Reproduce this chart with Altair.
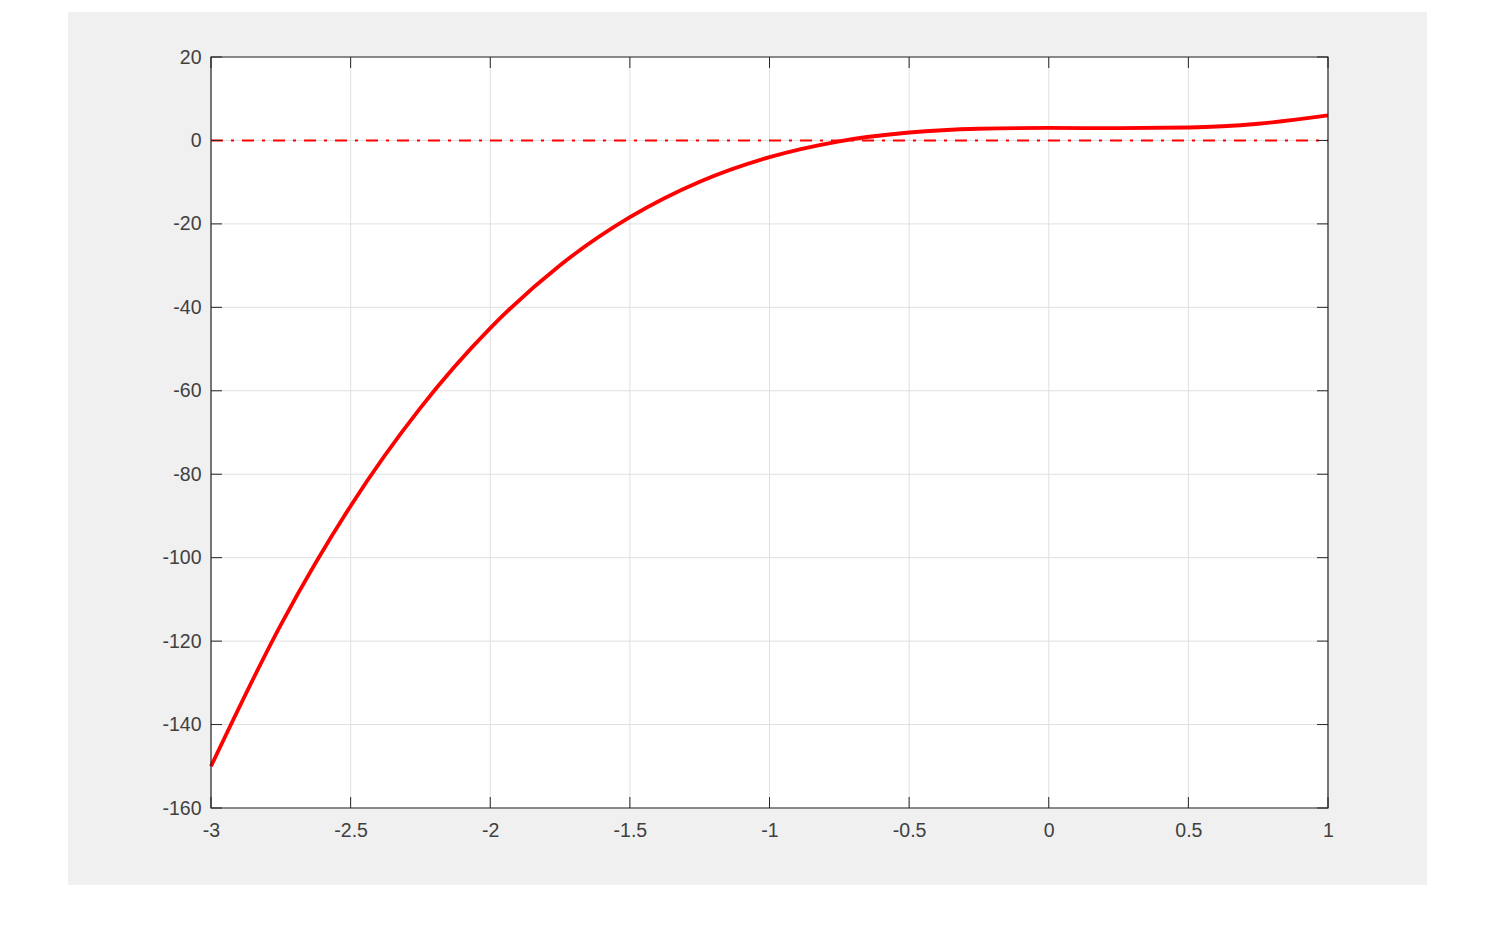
import altair as alt
import pandas as pd

# values
curve_x = [-3.0, -2.75, -2.5, -2.25, -2.0, -1.75, -1.5, -1.25, -1.0, -0.75,
           -0.5, -0.25, 0.0, 0.25, 0.5, 0.75, 1.0]
curve_y = [-150.0, -116.1, -87.6, -64.1, -45.0, -29.9, -18.4, -9.9, -4.0, -0.2,
           1.9, 2.8, 3.0, 2.95, 3.1, 4.0, 6.0]
zero_x = [-3.0, 1.0]
zero_y = [0.0, 0.0]
x_ticks = [-3, -2.5, -2, -1.5, -1, -0.5, 0, 0.5, 1]
y_ticks = [-160, -140, -120, -100, -80, -60, -40, -20, 0, 20]

W, H = 1117, 751
FONT = "Liberation Sans"
AX = "#262626"
LBL = "#404040"

curve = pd.DataFrame({"x": curve_x, "y": curve_y})
zero = pd.DataFrame({"x": zero_x, "y": zero_y})
xt = pd.DataFrame({"x": x_ticks})
yt = pd.DataFrame({"y": y_ticks})
one = alt.Data(values=[{"a": 1}])

xscale = alt.Scale(domain=[-3, 1], nice=False, zero=False)
yscale = alt.Scale(domain=[-160, 20], nice=False, zero=False)

xaxis = alt.Axis(values=x_ticks, labelExpr="'' + datum.value", grid=False, domain=False,
                 ticks=False, labelFont=FONT, labelFontSize=19.5, labelColor=LBL,
                 labelPadding=13, title=None, zindex=2, labelFlush=False)
yaxis = alt.Axis(values=y_ticks, labelExpr="'' + datum.value", grid=False, domain=False,
                 ticks=False, labelFont=FONT, labelFontSize=19.5, labelColor=LBL,
                 labelPadding=10, title=None, zindex=2, labelFlush=False)

bg = alt.Chart(one).mark_rect(color="#f0f0f0").encode(
    x=alt.value(-143), x2=alt.value(1216), y=alt.value(-45), y2=alt.value(828))
plotbg = alt.Chart(one).mark_rect(color="white").encode(
    x=alt.value(0), x2=alt.value(W), y=alt.value(0), y2=alt.value(H))

xgrid = alt.Chart(xt).mark_rule(color="#e0e0e0", strokeWidth=1).encode(
    x=alt.X("x:Q", scale=xscale, axis=xaxis), y=alt.value(0), y2=alt.value(H))
ygrid = alt.Chart(yt).mark_rule(color="#e0e0e0", strokeWidth=1).encode(
    y=alt.Y("y:Q", scale=yscale, axis=yaxis), x=alt.value(0), x2=alt.value(W))

zline = alt.Chart(zero).mark_line(color="#ff0000", strokeWidth=2,
                                  strokeDash=[12, 8, 3, 8]).encode(
    x=alt.X("x:Q", scale=xscale), y=alt.Y("y:Q", scale=yscale))

cline = alt.Chart(curve).mark_line(color="#ff0000", strokeWidth=3.8,
                                   interpolate="monotone").encode(
    x=alt.X("x:Q", scale=xscale), y=alt.Y("y:Q", scale=yscale))

TL = 11
xt_bot = alt.Chart(xt).mark_rule(color=AX).encode(
    x=alt.X("x:Q", scale=xscale), y=alt.value(H - TL), y2=alt.value(H))
xt_top = alt.Chart(xt).mark_rule(color=AX).encode(
    x=alt.X("x:Q", scale=xscale), y=alt.value(0), y2=alt.value(TL))
yt_left = alt.Chart(yt).mark_rule(color=AX).encode(
    y=alt.Y("y:Q", scale=yscale), x=alt.value(0), x2=alt.value(TL))
yt_right = alt.Chart(yt).mark_rule(color=AX).encode(
    y=alt.Y("y:Q", scale=yscale), x=alt.value(W - TL), x2=alt.value(W))

box = alt.Chart(one).mark_rect(filled=False, stroke=AX, strokeWidth=1.2).encode(
    x=alt.value(0), x2=alt.value(W), y=alt.value(0), y2=alt.value(H))

chart = alt.layer(bg, plotbg, xgrid, ygrid, zline, cline,
                  xt_bot, xt_top, yt_left, yt_right, box).properties(
    width=W, height=H,
    autosize=alt.AutoSizeParams(type="none"),
    padding={"left": 203, "top": 49, "right": 150, "bottom": 100},
    background="white",
).configure_view(stroke=None, fill=None)

chart.save("out.html", embed_options={"renderer": "svg", "actions": False})
